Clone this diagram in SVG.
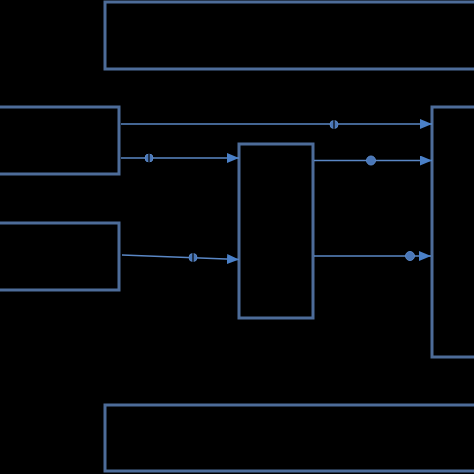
<svg xmlns="http://www.w3.org/2000/svg" width="474" height="474" viewBox="0 0 474 474">
<style>
.box{fill:#000;stroke:#4d6c99;stroke-width:3}
.con{fill:none;stroke:#5a87c5;stroke-width:1.6}
.dot{fill:#4a77b8;stroke:#5a87c5;stroke-width:1}
</style>
<defs>
<marker id="ah" markerUnits="userSpaceOnUse" markerWidth="12" markerHeight="10" refX="12" refY="5" orient="auto">
<path d="M0,0 L12,5 L0,10 Z" fill="#4a80c8"/>
</marker>
</defs>
<rect x="0" y="0" width="474" height="474" fill="#000"/>
<g id="top-box"><rect class="box" x="105" y="2" width="380" height="67"/></g>
<g id="left-box-1"><rect class="box" x="-5" y="107" width="124" height="67"/></g>
<g id="left-box-2"><rect class="box" x="-5" y="223" width="124" height="67"/></g>
<g id="center-box"><rect class="box" x="239" y="144" width="74" height="174"/></g>
<g id="right-box"><rect class="box" x="432" y="107" width="60" height="250"/></g>
<g id="bottom-box"><rect class="box" x="105" y="405" width="380" height="66"/></g>
<g id="connectors">
<path class="con" d="M121,124 L432,124" marker-end="url(#ah)"/>
<path class="con" d="M121,158 L239,158" marker-end="url(#ah)"/>
<path class="con" d="M122,255 L239,259.5" marker-end="url(#ah)"/>
<path class="con" d="M314,160.5 L432,160.5" marker-end="url(#ah)"/>
<path class="con" d="M314,256 L431,256" marker-end="url(#ah)"/>
<g>
<circle class="dot" cx="334" cy="124.5" r="4"/><line x1="334" y1="119" x2="334" y2="130" stroke="#000" stroke-width="1.2"/>
<circle class="dot" cx="149" cy="158" r="4"/><line x1="149" y1="153" x2="149" y2="163" stroke="#000" stroke-width="1.2"/>
<circle class="dot" cx="193" cy="257.5" r="4"/><line x1="193" y1="252" x2="193" y2="263" stroke="#000" stroke-width="1.2"/>
<circle class="dot" cx="371" cy="160.5" r="4.5"/>
<circle class="dot" cx="410" cy="256" r="4.5"/>
</g>
</g>
</svg>
